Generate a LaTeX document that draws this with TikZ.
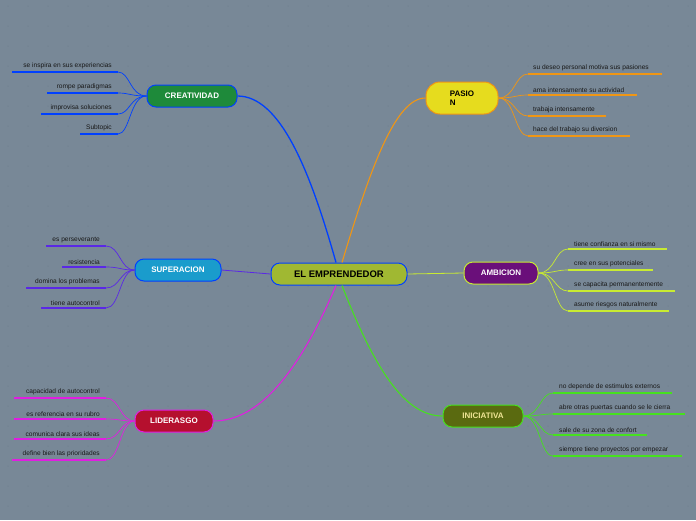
\documentclass[tikz,border=0pt]{standalone}
\usepackage{fontspec}
\setmainfont{Liberation Sans}
\begin{document}
\begin{tikzpicture}[x=1pt,y=-1pt,
  main/.style={rounded corners=9pt,draw,line width=1pt,minimum height=22pt,font=\fontsize{8}{9}\selectfont\bfseries,inner sep=2pt},
  leaf/.style={font=\fontsize{6.6}{7}\selectfont,text=black!90,inner sep=1pt},
  ul/.style={line width=1.6pt},
  br/.style={line width=0.7pt}]
\definecolor{bgc}{RGB}{120,136,151}
\definecolor{dotc}{RGB}{105,120,134}
\fill[bgc] (0,0) rectangle (696,520);
\foreach \i in {0,...,34}{\foreach \j in {0,...,25}{\fill[dotc] (\i*20+8,\j*20+6) circle (0.5);}}
\colorlet{cblue}{blue!75!cyan}
\definecolor{corange}{RGB}{240,150,20}
\definecolor{cpurp}{RGB}{90,40,230}
\definecolor{cyg}{RGB}{200,235,50}
\definecolor{cmag}{RGB}{225,30,225}
\definecolor{cgreen}{RGB}{70,225,30}
% nodes
\node[main,fill={rgb,255:red,160;green,184;blue,50},draw=cblue,minimum width=136pt,font=\fontsize{9.5}{11}\selectfont\bfseries] (c) at (339,274) {EL EMPRENDEDOR};
\node[main,fill={rgb,255:red,30;green,138;blue,58},draw=cblue,text=white,minimum width=90pt] (cr) at (192,96) {CREATIVIDAD};
\node[main,fill={rgb,255:red,230;green,220;blue,30},draw=corange,minimum width=72pt,minimum height=32pt,rounded corners=14pt,align=left] (pa) at (462,98) {PASIO\\N};
\node[main,fill={rgb,255:red,26;green,156;blue,204},draw=cblue,text=white,minimum width=86pt] (su) at (178,270) {SUPERACION};
\node[main,fill={rgb,255:red,106;green,15;blue,122},draw=cyg,text=white,minimum width=74pt] (am) at (501,273) {AMBICION};
\node[main,fill={rgb,255:red,181;green,16;blue,46},draw=cmag,text=white,minimum width=78pt] (li) at (174,421) {LIDERASGO};
\node[main,fill={rgb,255:red,90;green,106;blue,16},draw=cgreen,text={rgb,255:red,240;green,230;blue,150},minimum width=80pt] (in) at (483,416) {INICIATIVA};
% main branches
\draw[cblue,line width=1.3pt] (c.north) ++(-3,0) coordinate (c1) (c1) .. controls (310,170) and (280,96) .. (cr.east);
\draw[corange,line width=1.1pt] (c.north) ++(3,0) coordinate (c2) (c2) .. controls (370,170) and (395,98) .. (pa.west);
\draw[cpurp,line width=0.8pt] (c.west) -- (su.east);
\draw[cyg,line width=0.8pt] (c.east) -- (am.west);
\draw[cmag,line width=1.1pt] (c.south) ++(-3,0) coordinate (c3) (c3) .. controls (300,370) and (260,421) .. (li.east);
\draw[cgreen,line width=1.1pt] (c.south) ++(3,0) coordinate (c4) (c4) .. controls (375,370) and (405,416) .. (in.west);
% leaves
\foreach \y/\s/\t in {72/12/se inspira en sus experiencias,93/47/rompe paradigmas,114/41/improvisa soluciones,134/80/Subtopic}{
  \coordinate (e) at (118,\y);
  \draw[cblue,ul] (\s,\y) -- (e);
  \draw[cblue,br] (cr.west) .. controls (130,96) and (130,\y) .. (e);
  \node[leaf,anchor=south east] at (113,\y-1.5) {\t};}
\foreach \y/\s/\t in {246/46/es perseverante,267/62/resistencia,288/26/domina los problemas,308/41/tiene autocontrol}{
  \coordinate (e) at (106,\y);
  \draw[cpurp,ul] (\s,\y) -- (e);
  \draw[cpurp,br] (su.west) .. controls (120,270) and (120,\y) .. (e);
  \node[leaf,anchor=south east] at (101,\y-1.5) {\t};}
\foreach \y/\s/\t in {398/14/capacidad de autocontrol,419/14/es referencia en su rubro,439/14/comunica clara sus ideas,460/12/define bien las prioridades}{
  \coordinate (e) at (106,\y);
  \draw[cmag,ul] (\s,\y) -- (e);
  \draw[cmag,br] (li.west) .. controls (120,421) and (120,\y) .. (e);
  \node[leaf,anchor=south east] at (101,\y-1.5) {\t};}
\foreach \y/\s/\t in {74/662/su deseo personal motiva sus pasiones,95/637/ama intensamente su actividad,116/606/trabaja intensamente,136/630/hace del trabajo su diversion}{
  \coordinate (e) at (528,\y);
  \draw[corange,ul] (e) -- (\s,\y);
  \draw[corange,br] (pa.east) .. controls (515,98) and (515,\y) .. (e);
  \node[leaf,anchor=south west] at (532,\y-1.5) {\t};}
\foreach \y/\s/\t in {249/667/tiene confianza en si mismo,270/653/cree en sus potenciales,291/675/se capacita permanentemente,311/669/asume riesgos naturalmente}{
  \coordinate (e) at (568,\y);
  \draw[cyg,ul] (e) -- (\s,\y);
  \draw[cyg,br] (am.east) .. controls (555,273) and (555,\y) .. (e);
  \node[leaf,anchor=south west] at (573,\y-1.5) {\t};}
\foreach \y/\s/\t in {393/672/no depende de estimulos externos,414/685/abre otras puertas cuando se le cierra,435/647/sale de su zona de confort,456/682/siempre tiene proyectos por empezar}{
  \coordinate (e) at (553,\y);
  \draw[cgreen,ul] (e) -- (\s,\y);
  \draw[cgreen,br] (in.east) .. controls (540,416) and (540,\y) .. (e);
  \node[leaf,anchor=south west] at (558,\y-1.5) {\t};}
\end{tikzpicture}
\end{document}
